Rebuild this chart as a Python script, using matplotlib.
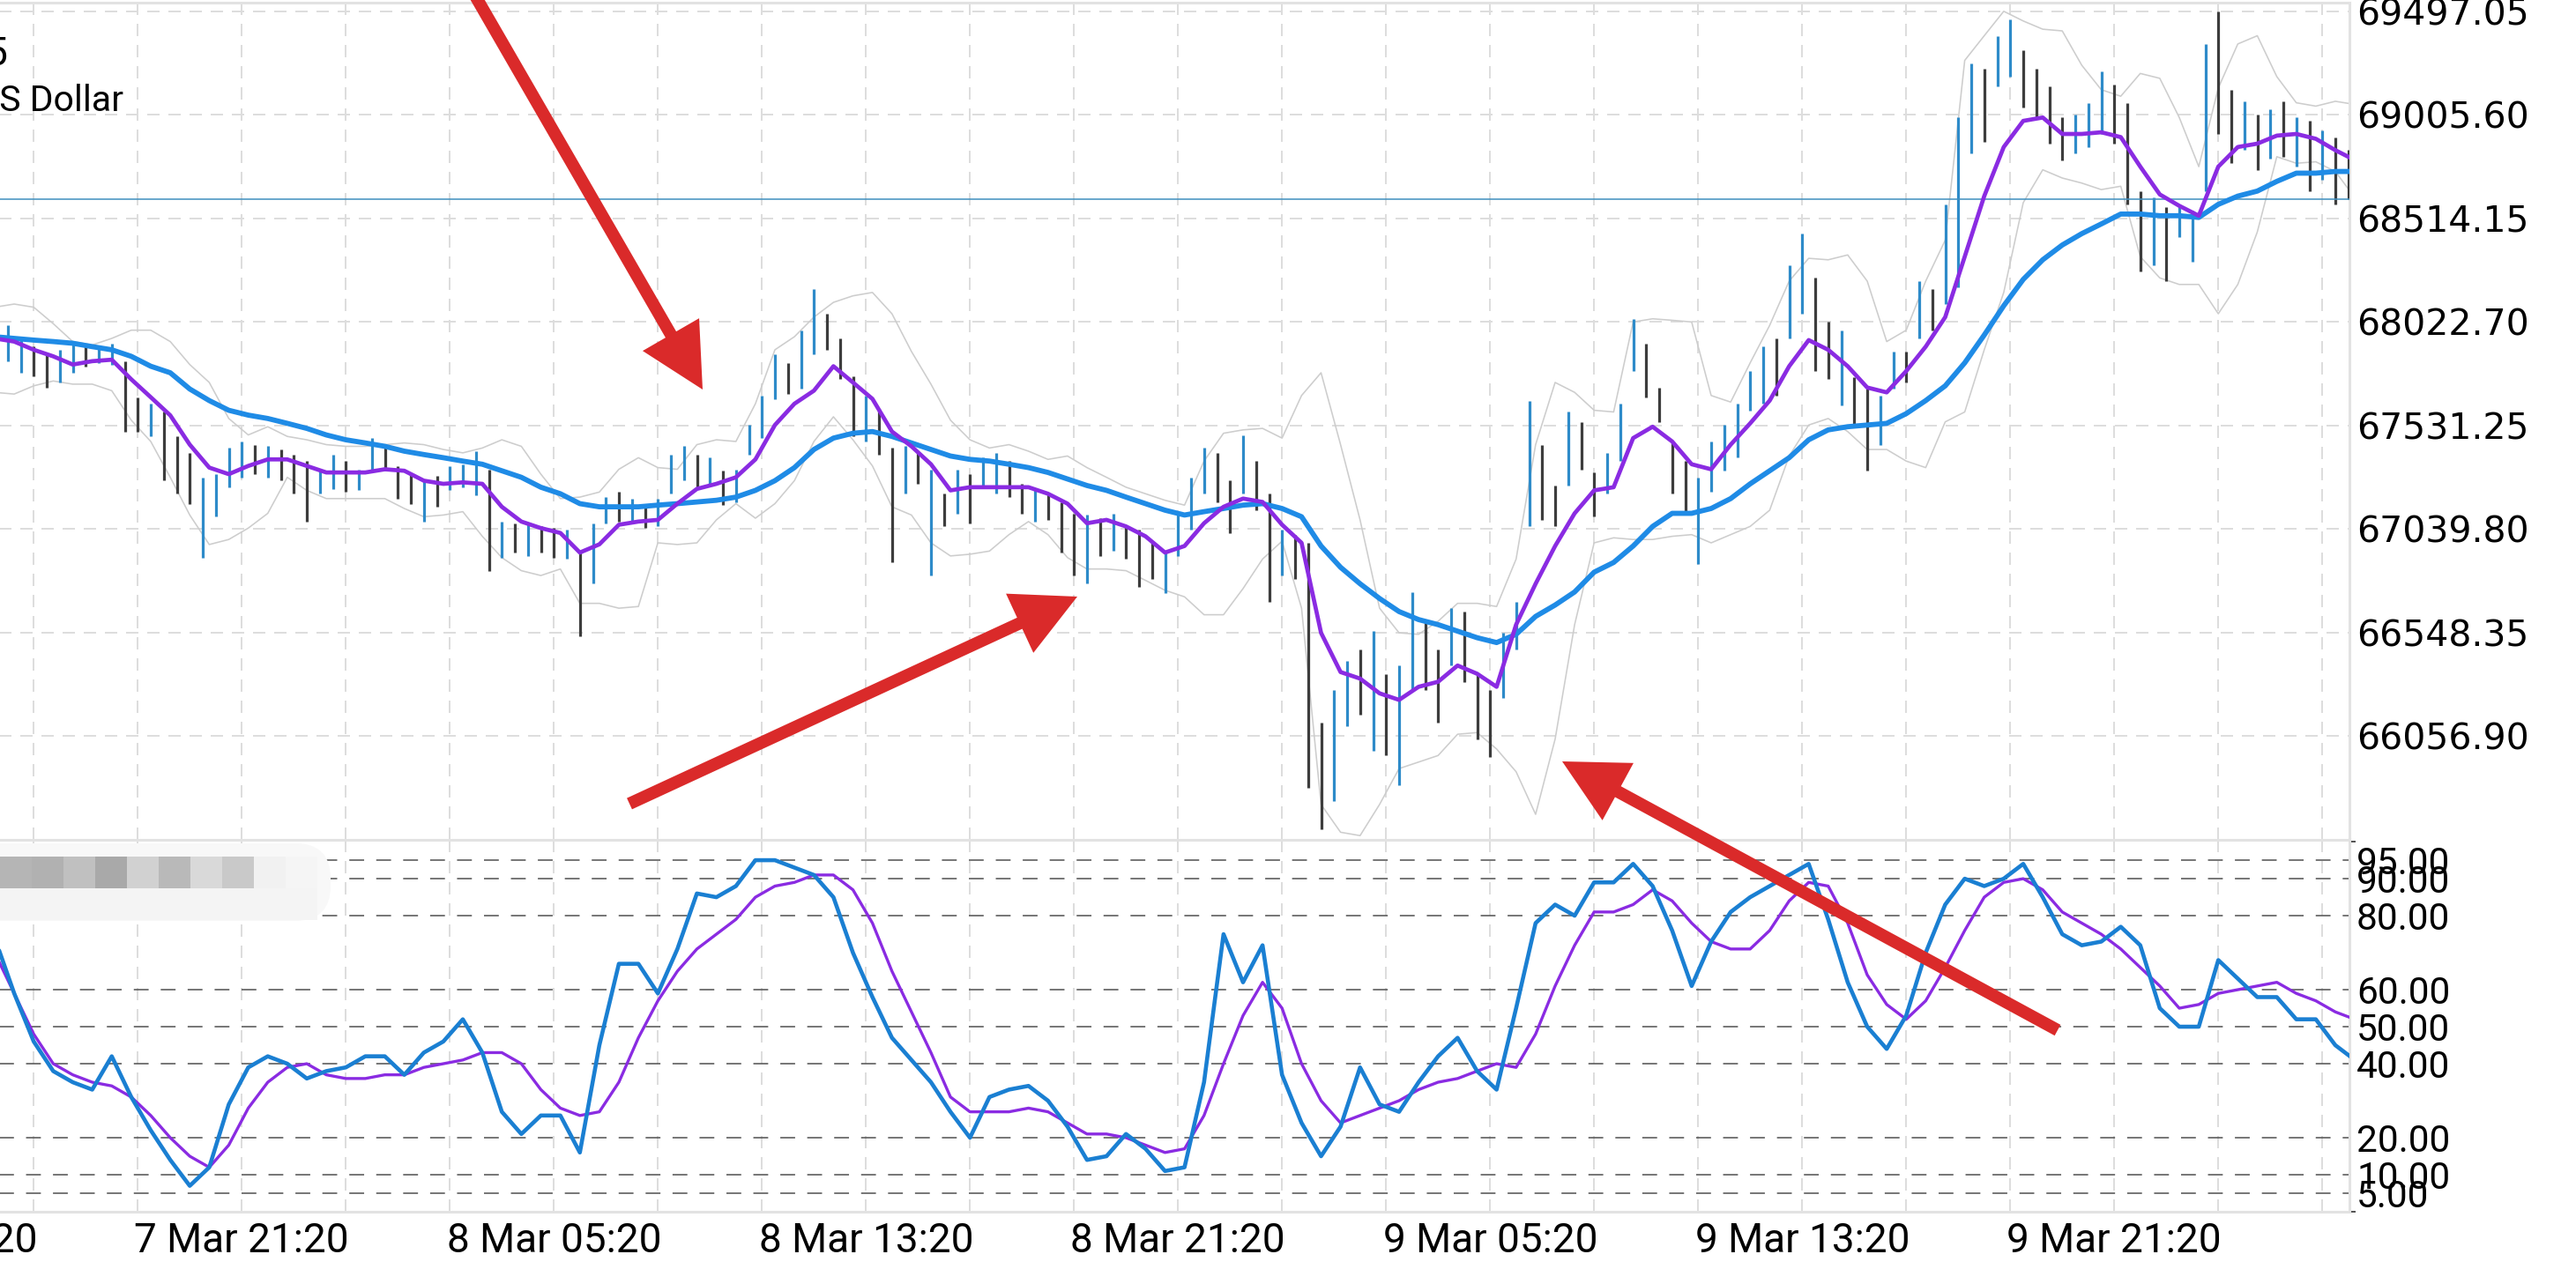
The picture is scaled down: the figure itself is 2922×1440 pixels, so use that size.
import matplotlib
matplotlib.use('Agg')
import matplotlib.pyplot as plt
import matplotlib.dates as mdates
from matplotlib.patches import FancyArrow, FancyBboxPatch, Rectangle
from matplotlib.ticker import FixedLocator
import numpy as np
import pandas as pd

plt.rcParams['font.family'] = ['Roboto', 'DejaVu Sans']

# ── data ──────────────────────────────────────────────────────────────
LINE_START = '2024-03-07 15:00'   # 30-minute samples for the indicator lines
BAR_START = '2024-03-07 15:20'    # 20-minute price bars

FAST_MA = [
    67944, 67929, 67890, 67859, 67820, 67836, 67843, 67750, 67665, 67579,
    67440, 67331, 67300, 67339, 67370, 67370, 67339, 67308, 67308, 67308,
    67323, 67316, 67269, 67254, 67261, 67254, 67145, 67075, 67044, 67021,
    66928, 66967, 67060, 67075, 67083, 67160, 67230, 67254, 67285, 67370,
    67533, 67634, 67696, 67812, 67735, 67657, 67502, 67432, 67347, 67223,
    67238, 67238, 67238, 67238, 67207, 67160, 67067, 67083, 67052, 67005,
    66928, 66959, 67067, 67145, 67184, 67168, 67060, 66974, 66547, 66361,
    66330, 66260, 66229, 66291, 66315, 66392, 66353, 66291, 66586, 66780,
    66959, 67114, 67223, 67238, 67471, 67525, 67455, 67347, 67323, 67440,
    67541, 67649, 67812, 67936, 67890, 67812, 67711, 67688, 67789, 67905,
    68045, 68332, 68619, 68852, 68976, 68992, 68914, 68914, 68922, 68899,
    68759, 68627, 68573, 68526, 68759, 68852, 68868, 68906, 68914, 68891,
    68837, 68790]

SLOW_MA = [
    67952, 67944, 67936, 67929, 67921, 67905, 67890, 67859, 67812, 67781,
    67704, 67649, 67603, 67580, 67564, 67541, 67517, 67486, 67463, 67448,
    67432, 67409, 67393, 67378, 67362, 67347, 67316, 67285, 67238, 67207,
    67160, 67145, 67145, 67145, 67153, 67160, 67168, 67176, 67191, 67223,
    67269, 67331, 67417, 67471, 67494, 67502, 67479, 67448, 67417, 67386,
    67370, 67362, 67347, 67331, 67308, 67277, 67246, 67223, 67191, 67160,
    67129, 67106, 67122, 67137, 67153, 67160, 67137, 67098, 66959, 66858,
    66780, 66710, 66648, 66610, 66586, 66555, 66524, 66501, 66540, 66625,
    66679, 66741, 66835, 66881, 66959, 67052, 67114, 67114, 67137, 67184,
    67254, 67316, 67378, 67463, 67510, 67525, 67533, 67541, 67587, 67649,
    67719, 67828, 67960, 68099, 68224, 68317, 68387, 68441, 68487, 68534,
    68534, 68526, 68526, 68518, 68580, 68619, 68643, 68689, 68728, 68728,
    68736, 68736]

BB_UPPER = [
    68092, 68107, 68092, 68014, 67929, 67913, 67944, 67983, 67983, 67929,
    67820, 67735, 67564, 67486, 67525, 67479, 67463, 67440, 67432, 67432,
    67440, 67448, 67440, 67417, 67401, 67424, 67463, 67432, 67300, 67184,
    67191, 67215, 67323, 67378, 67331, 67323, 67440, 67463, 67455, 67634,
    67890, 67952, 68045, 68115, 68146, 68162, 68061, 67882, 67727, 67556,
    67463, 67424, 67440, 67409, 67370, 67386, 67331, 67285, 67238, 67207,
    67176, 67153, 67362, 67494, 67510, 67517, 67471, 67673, 67781, 67440,
    67083, 66664, 66547, 66540, 66602, 66687, 66687, 66672, 66897, 67440,
    67735, 67688, 67603, 67595, 68022, 68037, 68030, 68022, 67673, 67642,
    67828, 68006, 68216, 68324, 68317, 68340, 68216, 67929, 67983, 68216,
    68410, 69263, 69380, 69496, 69450, 69411, 69403, 69240, 69124, 69093,
    69201, 69178, 68992, 68759, 69132, 69341, 69380, 69186, 69062, 69046,
    69069, 69054]

BB_LOWER = [
    67688, 67680, 67719, 67742, 67727, 67727, 67696, 67556, 67455, 67285,
    67106, 66966, 66990, 67044, 67114, 67285, 67223, 67184, 67184, 67184,
    67184, 67137, 67098, 67106, 67122, 67005, 66904, 66842, 66819, 66850,
    66687, 66687, 66664, 66672, 66974, 66966, 66974, 67083, 67160, 67091,
    67160, 67269, 67455, 67572, 67463, 67339, 67145, 67106, 66974, 66912,
    66920, 66935, 67013, 67075, 67013, 66904, 66850, 66850, 66842, 66796,
    66749, 66718, 66633, 66633, 66757, 66897, 66982, 66664, 65733, 65601,
    65585, 65733, 65903, 65934, 65965, 66066, 66074, 65996, 65888, 65686,
    66043, 66586, 66974, 66998, 66990, 66990, 67005, 67013, 66974, 67013,
    67052, 67129, 67386, 67533, 67564, 67502, 67417, 67417, 67362, 67331,
    67548, 67595, 67890, 68162, 68588, 68744, 68705, 68681, 68650, 68666,
    68332, 68231, 68200, 68200, 68061, 68200, 68449, 68806, 68775, 68782,
    68736, 68612]

STOCH_K = [
    74, 59, 46, 38, 35, 33, 42, 31, 22, 14,
    7, 12, 29, 39, 42, 40, 36, 38, 39, 42,
    42, 37, 43, 46, 52, 43, 27, 21, 26, 26,
    16, 45, 67, 67, 59, 71, 86, 85, 88, 95,
    95, 93, 91, 85, 70, 58, 47, 41, 35, 27,
    20, 31, 33, 34, 30, 23, 14, 15, 21, 17,
    11, 12, 35, 75, 62, 72, 37, 24, 15, 23,
    39, 29, 27, 35, 42, 47, 38, 33, 55, 78,
    83, 80, 89, 89, 94, 88, 76, 61, 73, 81,
    85, 88, 91, 94, 79, 62, 50, 44, 53, 70,
    83, 90, 88, 90, 94, 85, 75, 72, 73, 77,
    72, 55, 50, 50, 68, 63, 58, 58, 52, 52,
    45, 41]

STOCH_D = [
    70, 59, 48, 40, 37, 35, 34, 31, 26, 20,
    15, 12, 18, 28, 35, 39, 40, 37, 36, 36,
    37, 37, 39, 40, 41, 43, 43, 40, 33, 28,
    26, 27, 35, 47, 57, 65, 71, 75, 79, 85,
    88, 89, 91, 91, 87, 78, 65, 54, 43, 31,
    27, 27, 27, 28, 27, 24, 21, 21, 20, 18,
    16, 17, 26, 40, 53, 62, 55, 40, 30, 24,
    26, 28, 30, 33, 35, 36, 38, 40, 39, 48,
    61, 72, 81, 81, 83, 87, 84, 78, 73, 71,
    71, 76, 84, 89, 88, 78, 64, 56, 52, 57,
    66, 76, 85, 89, 90, 87, 81, 78, 75, 71,
    66, 61, 55, 56, 59, 60, 61, 62, 59, 57,
    54, 52]

BAR_HIGH = [
    68006, 67944, 67905, 67874, 67890, 67921, 67913, 67905, 67921,
    67836, 67665, 67634, 67595, 67479, 67401, 67285, 67300, 67424,
    67455, 67440, 67432, 67417, 67393, 67362, 67323, 67393, 67362,
    67323, 67471, 67440, 67339, 67300, 67269, 67292, 67339, 67347,
    67409, 67323, 67075, 67067, 67067, 67052, 67044, 67036, 66935,
    67067, 67191, 67215, 67184, 67160, 67184, 67393, 67432, 67393,
    67378, 67316, 67323, 67533, 67673, 67867, 67828, 67983, 68177,
    68061, 67944, 67766, 67673, 67611, 67424, 67432, 67401, 67323,
    67207, 67323, 67300, 67378, 67401, 67362, 67254, 67230, 67207,
    67168, 67114, 67106, 67091, 67114, 67052, 67036, 66974, 66935,
    67114, 67285, 67424, 67401, 67269, 67486, 67362, 67207, 67036,
    67013, 66974, 66121, 66276, 66415, 66470, 66555, 66353, 66392,
    66741, 66602, 66470, 66664, 66648, 66353, 66276, 66547, 66695,
    67649, 67440, 67246, 67595, 67548, 67308, 67401, 67634, 68037,
    67921, 67711, 67455, 67362, 67285, 67455, 67533, 67634, 67789,
    67905, 67944, 68293, 68441, 68231, 68022, 67983, 67758, 67704,
    67673, 67882, 67882, 68216, 68177, 68581, 68992, 69248, 69225,
    69380, 69457, 69310, 69225, 69139, 68992, 69007, 69062, 69209,
    69147, 69062, 68643, 68612, 68565, 68581, 68549, 69341, 69496,
    69124, 69069, 69007, 69031, 69069, 68992, 68976, 68930, 68899, 68837]

BAR_LOW = [
    67836, 67781, 67766, 67711, 67735, 67781, 67812, 67828, 67820,
    67502, 67502, 67479, 67269, 67207, 67160, 66904, 67098, 67238,
    67285, 67300, 67285, 67269, 67207, 67075, 67207, 67230, 67215,
    67223, 67323, 67316, 67184, 67160, 67075, 67145, 67223, 67238,
    67199, 66842, 66904, 66928, 66912, 66928, 66904, 66897, 66532,
    66780, 67067, 67075, 67067, 67044, 67052, 67207, 67269, 67238,
    67254, 67153, 67168, 67393, 67471, 67657, 67680, 67704, 67867,
    67890, 67750, 67479, 67455, 67393, 66881, 67207, 67254, 66819,
    67052, 67114, 67067, 67238, 67207, 67191, 67114, 67075, 67083,
    66928, 66819, 66780, 66912, 66935, 66897, 66765, 66803, 66734,
    66912, 67036, 67207, 67168, 67021, 67207, 67129, 66695, 66819,
    66803, 65810, 65616, 65748, 66105, 66159, 65989, 65965, 65826,
    66276, 66276, 66121, 66392, 66315, 66043, 65958, 66237, 66470,
    67052, 67083, 67052, 67246, 67323, 67098, 67207, 67362, 67789,
    67665, 67548, 67207, 67114, 66873, 67215, 67316, 67378, 67603,
    67634, 67673, 67944, 68061, 67789, 67750, 67626, 67533, 67316,
    67440, 67704, 67735, 67944, 67983, 68107, 68185, 68821, 68875,
    69139, 69186, 69038, 68992, 68868, 68790, 68821, 68852, 68914,
    68868, 68581, 68262, 68293, 68216, 68425, 68309, 68643, 68914,
    68775, 68837, 68743, 68798, 68806, 68759, 68643, 68697, 68581, 68604]

# u = bar closed up (blue), d = bar closed down (dark gray)
BAR_DIR = ('uudduuduu' 'dduddduuu' 'ududdduud' 'uuddduduu' 'udududdud'
           'uududuuud' 'uduuuuduu' 'ddduddudu' 'duduuddud' 'ddududddu'
           'uuudduddu' 'ddduududu' 'udduddduu' 'uddudduuu' 'dddduuuuu'
           'uduuddudd' 'uududuuud' 'uudddduuu' 'ddduduuud' 'dududududd')

LAST_PRICE = 68603
PRICE_TICKS = [66056.90, 66548.35, 67039.80, 67531.25,
               68022.70, 68514.15, 69005.60, 69497.05]
OSC_LEVELS = [95, 90, 80, 60, 50, 40, 20, 10, 5]
TICK_LABELS = ['7 Mar 13:20', '7 Mar 21:20', '8 Mar 05:20', '8 Mar 13:20',
               '8 Mar 21:20', '9 Mar 05:20', '9 Mar 13:20', '9 Mar 21:20']
TITLE_LINES = ['BTCUSD, M5', 'Bitcoin vs US Dollar']
REDACT_SHADES = ['#b5b5b5', '#b1b1b1', '#c0c0c0', '#a9a9a9', '#d1d1d1',
                 '#b9b9b9', '#d9d9d9', '#c9c9c9', '#f1f1f1', '#f5f5f5']

# ── colours ───────────────────────────────────────────────────────────
UP_CLR = '#2e8bc9'
DOWN_CLR = '#3d3d3d'
FAST_CLR = '#8a2be2'
SLOW_CLR = '#1f8be6'
BAND_CLR = '#cdcdcd'
K_CLR = '#1a7fd2'
GRID_CLR = '#dddddd'
FRAME_CLR = '#e2e2e2'
ARROW_CLR = '#da2a2a'

# ── figure (pixel-based layout) ───────────────────────────────────────
W, H = 2922, 1440
PX_PER_HOUR = 44.25
fig = plt.figure(figsize=(W / 100, H / 100), dpi=100)
fig.patch.set_facecolor('white')


def px_rect(x0, y0, x1, y1):
    return [x0 / W, 1 - y1 / H, (x1 - x0) / W, (y1 - y0) / H]


def px_time(x):
    return pd.Timestamp(LINE_START) + pd.Timedelta(hours=(x + 6) / PX_PER_HOUR)


ax = fig.add_axes(px_rect(-120, 3, 2665, 953))
osc = fig.add_axes(px_rect(-120, 953, 2665, 1375), sharex=ax)

line_t = pd.date_range(LINE_START, periods=len(FAST_MA), freq='30min')
bar_t = pd.date_range(BAR_START, periods=len(BAR_HIGH), freq='20min')
highs = np.array(BAR_HIGH)
lows = np.array(BAR_LOW)
up = np.array([c == 'u' for c in BAR_DIR])
smooth = dict(solid_joinstyle='round', solid_capstyle='round')

# price panel
ax.plot(line_t, BB_UPPER, color=BAND_CLR, lw=1.15, zorder=2, **smooth)
ax.plot(line_t, BB_LOWER, color=BAND_CLR, lw=1.15, zorder=2, **smooth)
ax.vlines(bar_t[up], lows[up], highs[up], color=UP_CLR, lw=2.3, zorder=3)
ax.vlines(bar_t[~up], lows[~up], highs[~up], color=DOWN_CLR, lw=2.3, zorder=3)
ax.axhline(LAST_PRICE, color='#3f8fbf', lw=1.1, zorder=3.5)
ax.plot(line_t, SLOW_MA, color=SLOW_CLR, lw=4.2, zorder=4, **smooth)
ax.plot(line_t, FAST_MA, color=FAST_CLR, lw=3.4, zorder=5, **smooth)

ax.set_ylim(65565, 69537)
ax.yaxis.tick_right()
ax.set_yticks(PRICE_TICKS)
ax.set_yticklabels([f'{v:.2f}' for v in PRICE_TICKS],
                   fontfamily='DejaVu Sans', fontsize=29.5)
ax.tick_params(axis='y', length=0, pad=5.8)
ax.tick_params(axis='x', which='both', length=0, labelbottom=False)

# oscillator panel
for lv in OSC_LEVELS:
    osc.axhline(lv, color='#4f4f4f', lw=1.1, ls=(0, (11, 9)), zorder=1)
osc.plot(line_t, STOCH_D, color=FAST_CLR, lw=2.4, zorder=3, **smooth)
osc.plot(line_t, STOCH_K, color=K_CLR, lw=3.3, zorder=4, **smooth)
osc.set_ylim(0, 100.5)
osc.yaxis.tick_right()
osc.set_yticks(OSC_LEVELS)
osc.set_yticklabels([f'{v:.2f}' for v in OSC_LEVELS], fontsize=30.5)
osc.yaxis.set_minor_locator(FixedLocator([0, 100]))
osc.tick_params(axis='y', which='major', length=0, pad=5.8)
osc.tick_params(axis='y', which='minor', length=5, width=1.2,
                color='#333333')

# shared time axis
tick_t = pd.to_datetime(['2024 ' + s for s in TICK_LABELS],
                        format='%Y %d %b %H:%M')
grid_t = pd.date_range(tick_t[0], px_time(2700), freq='160min')
osc.xaxis.set_major_locator(FixedLocator(mdates.date2num(tick_t)))
osc.xaxis.set_minor_locator(FixedLocator(mdates.date2num(grid_t)))
osc.xaxis.set_major_formatter(mdates.DateFormatter('%-d %b %H:%M'))
osc.tick_params(axis='x', which='both', length=0, pad=8, labelsize=33)
osc.set_xlim(px_time(-120), px_time(2665))

for a in (ax, osc):
    a.set_facecolor('white')
    a.grid(which='both', axis='x', color=GRID_CLR, lw=1.44,
           linestyle=(0, (7, 5)), zorder=0)
    for side in ('top', 'right', 'bottom'):
        a.spines[side].set_color(FRAME_CLR)
        a.spines[side].set_linewidth(2.2)
    a.spines['left'].set_visible(False)
    a.set_axisbelow(True)
ax.grid(which='major', axis='y', color=GRID_CLR, lw=1.44,
        linestyle=(0, (7, 5)), zorder=0)

# symbol caption, cut by the left edge like the screenshot
fig.text(9 / W, 1 - 62 / H, TITLE_LINES[0], ha='right', va='center',
         fontsize=32, color='black')
fig.text(140 / W, 1 - 115 / H, TITLE_LINES[1], ha='right', va='center',
         fontsize=29.5, color='black')

# ── overlay: blurred indicator label and red arrows ───────────────────
ov = fig.add_axes([0, 0, 1, 1], zorder=10)
ov.set_xlim(0, W)
ov.set_ylim(H, 0)
ov.axis('off')
ov.patch.set_alpha(0)

ov.add_patch(FancyBboxPatch((-60, 957), 435, 88,
                            boxstyle='round,pad=0,rounding_size=40',
                            fc='#f8f8f8', ec='none'))
ov.add_patch(Rectangle((0, 1008), 360, 36, fc='#f4f4f4', ec='none'))
for i, shade in enumerate(REDACT_SHADES):
    ov.add_patch(Rectangle((i * 36, 972), 36, 36, fc=shade, ec='none'))

ARROWS = [((536, -10), (797, 442)),
          ((714, 912), (1222, 677)),
          ((2334, 1169), (1772, 864))]
for (x0, y0), (x1, y1) in ARROWS:
    ov.add_patch(FancyArrow(x0, y0, x1 - x0, y1 - y0, width=14,
                            head_width=74, head_length=72,
                            length_includes_head=True,
                            fc=ARROW_CLR, ec='none'))

fig.savefig('out.png', dpi=100, facecolor='white')
